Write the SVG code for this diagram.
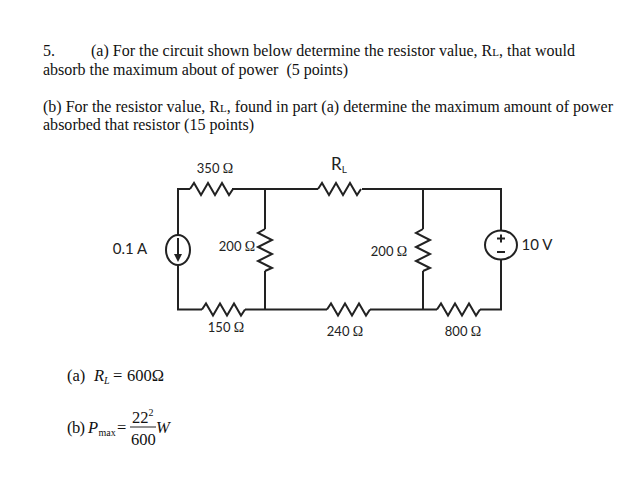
<svg xmlns="http://www.w3.org/2000/svg" width="620" height="496" viewBox="0 0 620 496">
<style>
.t{font-family:"Liberation Serif","Times New Roman",serif;font-size:16px;fill:#111;white-space:pre}
.m{font-family:"Liberation Serif","Times New Roman",serif;font-size:16.500px;fill:#111}
.i{font-style:italic}
.c{font-family:Lato,"Liberation Sans",Arial,sans-serif;font-size:13px;fill:#222;text-anchor:middle}
.o{font-family:"Liberation Serif",serif;font-size:14px}
.w{fill:none;stroke:#222;stroke-width:2;stroke-linejoin:miter}
</style>
<defs>
<path id="rh" d="M0 0 L4 -6 L11 6 L18 -6 L25 6 L32 -6 L39 6 L43 0" class="w"/>
<path id="rv" d="M0 0 L-7 4 L7 11 L-7 18 L7 25 L-7 32 L7 39 L0 42" class="w"/>
</defs>
<rect width="620" height="496" fill="#fff"/>
<g id="problem-text">
<text class="t" x="43" y="56">5.</text>
<text class="t" x="91" y="56" textLength="484" lengthAdjust="spacing">(a) For the circuit shown below determine the resistor value, R<tspan font-size="11">L</tspan>, that would</text>
<text class="t" x="43" y="75" textLength="305" lengthAdjust="spacing">absorb the maximum about of power  (5 points)</text>
<text class="t" x="43" y="112" textLength="570" lengthAdjust="spacing">(b) For the resistor value, R<tspan font-size="11">L</tspan>, found in part (a) determine the maximum amount of power</text>
<text class="t" x="43" y="130" textLength="211" lengthAdjust="spacing">absorbed that resistor (15 points)</text>
</g>
<g id="connectors">
<path class="w" d="M178 235 V189 H190 M232 189 H318 M362 189 H501 V230 M265 189 V229 M265 271 V309.500 M178 265 V309.500 H202 M245 309.500 H327 M370 309.500 H437 M423 189 V229 M423 271 V309.500 M480 309.500 H501 V259"/>
</g>
<g id="r350"><use href="#rh" x="190" y="189"/><text class="c" x="215" y="173">350 <tspan class="o">Ω</tspan></text></g>
<g id="rL"><use href="#rh" x="318" y="189"/><text class="c" x="339" y="170" style="font-size:17px">R<tspan dy="3" style="font-size:10px">L</tspan></text></g>
<g id="r200a"><use href="#rv" x="265" y="229"/><text class="c" x="237" y="251">200 <tspan class="o">Ω</tspan></text></g>
<g id="r200b"><use href="#rv" x="423" y="229"/><text class="c" x="389" y="256">200 <tspan class="o">Ω</tspan></text></g>
<g id="r150"><use href="#rh" x="202" y="309.500"/><text class="c" x="226" y="332">150 <tspan class="o">Ω</tspan></text></g>
<g id="r240"><use href="#rh" x="327" y="309.500"/><text class="c" x="345" y="336">240 <tspan class="o">Ω</tspan></text></g>
<g id="r800"><use href="#rh" x="437" y="309.500"/><text class="c" x="463" y="336">800 <tspan class="o">Ω</tspan></text></g>
<g id="current-source">
<ellipse class="w" cx="178" cy="250" rx="12" ry="15"/>
<path class="w" d="M178 238 V256"/>
<path d="M174 254 H182 L178 262 Z" fill="#222"/>
<text class="c" x="130" y="254" style="font-size:15px">0.1 A</text>
</g>
<g id="voltage-source">
<ellipse class="w" cx="501" cy="245" rx="16" ry="14.500"/>
<path class="w" d="M497 238.500 H505 M501 234.500 V242.500 M497 252 H505"/>
<text class="c" x="537" y="250" style="font-size:15px">10 V</text>
</g>
<g id="answers">
<text class="m" x="67" y="381">(a)</text>
<text class="m i" x="94" y="381">R<tspan dy="3" style="font-size:10px">L</tspan></text>
<text class="m" x="113" y="381">=</text>
<text class="m" x="127" y="381">600Ω</text>
<text class="m" x="67" y="433" textLength="18">(b)</text>
<text class="m i" x="88" y="433">P</text>
<text class="m" x="98.500" y="436" style="font-size:10px">max</text>
<text class="m" x="117" y="433">=</text>
<text class="m" x="132" y="423">22<tspan style="font-size:10px" dy="-7">2</tspan></text>
<path d="M130 427 H156" stroke="#222" stroke-width="1"/>
<text class="m" x="131" y="445">600</text>
<text class="m i" x="156" y="433">W</text>
</g>
</svg>
